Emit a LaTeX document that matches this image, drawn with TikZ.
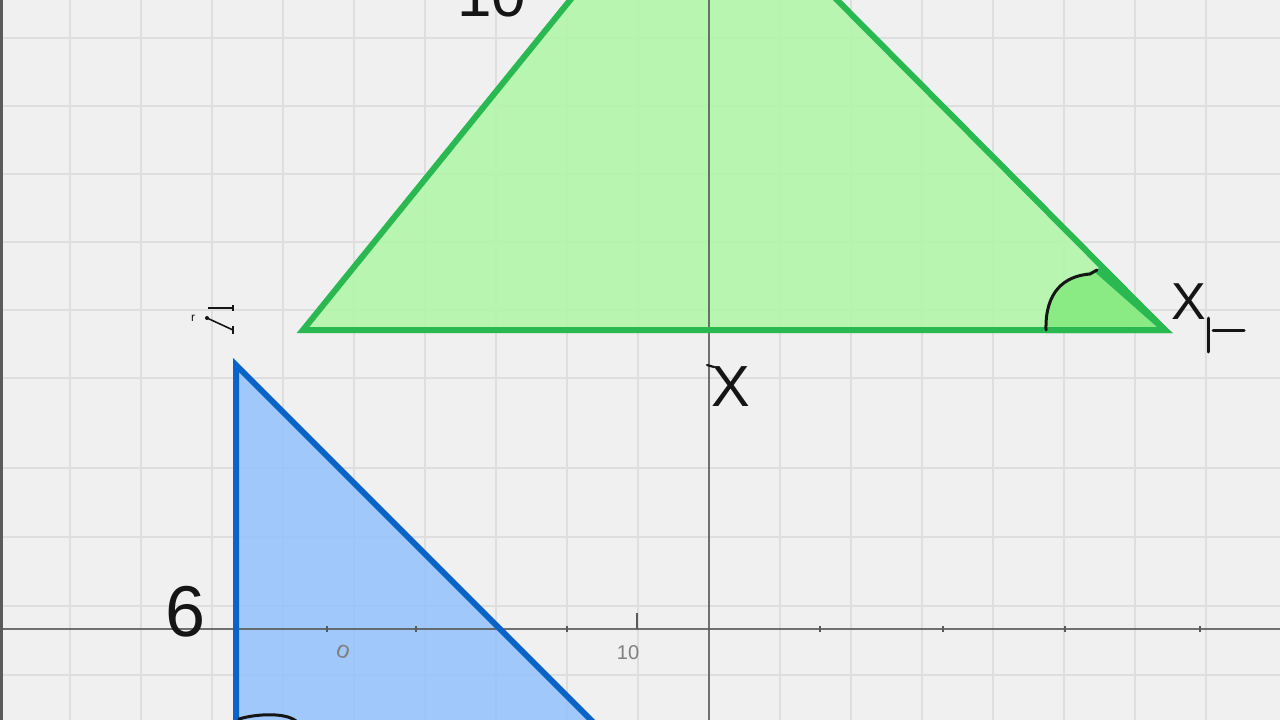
\documentclass[tikz,border=0pt]{standalone}
\usepackage{fontspec}
\setmainfont{Liberation Sans}
\definecolor{bgc}{HTML}{F0F0F0}
\definecolor{gridc}{HTML}{DEDEDE}
\definecolor{axisc}{HTML}{5A5A5A}
\definecolor{gstroke}{HTML}{2AB850}
\definecolor{gfill}{HTML}{AEF7A7}
\definecolor{gangle}{HTML}{86EA80}
\definecolor{bstroke}{HTML}{0A64C8}
\definecolor{bfill}{HTML}{92C1FC}
\definecolor{inkc}{HTML}{151515}
\tikzset{
  gridline/.style={draw=gridc, line width=1.6pt},
  axisline/.style={draw=axisc, line width=1.6pt},
  greenfill/.style={fill=gfill, fill opacity=0.85},
  greenedge/.style={draw=gstroke, line width=6pt},
  bluefill/.style={fill=bfill, fill opacity=0.85},
  blueedge/.style={draw=bstroke, line width=6pt},
  ink/.style={draw=inkc, line width=3pt, line cap=round},
  thinink/.style={draw=inkc, line width=1.6pt},
  biglabel/.style={inner sep=0pt, text=inkc},
  smalllabel/.style={inner sep=0pt, text=gray},
}
\begin{document}
\begin{tikzpicture}[x=1pt,y=-1pt]
\useasboundingbox (0,0) rectangle (1280,720);
\clip (0,0) rectangle (1280,720);
\fill[bgc] (0,0) rectangle (1280,720);
% grid
\foreach \x in {70,141,212,283,354,425,496,567,638,780,851,922,993,1064,1135,1206}
  \draw[gridline] (\x,0) -- (\x,720);
\foreach \y in {38,106,174,242,310,378,468,537,606,675}
  \draw[gridline] (0,\y) -- (1280,\y);
% triangle corners
\coordinate (gA) at (690,-148);
\coordinate (gB) at (303,330);
\coordinate (gC) at (1165,330);
\coordinate (bA) at (236,365);
\coordinate (bB) at (236,800);
\coordinate (bC) at (671,800);
% fills
\fill[greenfill] (gA) -- (gB) -- (gC) -- cycle;
\fill[bluefill] (bA) -- (bB) -- (bC) -- cycle;
% axes
\draw[axisline, draw opacity=0.85] (709,0) -- (709,720);
\draw[axisline, draw opacity=0.85] (0,629) -- (1280,629);
\foreach \x in {327,416,567,820,943,1065,1200}
  \draw[axisline, line width=1.2pt] (\x,626) -- (\x,632);
\draw[axisline, line width=1.2pt] (637,613) -- (637,629);
\draw[draw=axisc, line width=3pt] (1.5,0) -- (1.5,720);
% green triangle edges and angle
\draw[greenedge] (gA) -- (gB) -- (gC) -- cycle;
\coordinate (arcS) at (1046,330);
\coordinate (arcE) at (1097,270);
\fill[gangle, fill opacity=0.9] (gC) -- (arcS) .. controls (1045,292) and (1064,276) .. (arcE) -- cycle;
\draw[greenedge] (arcE) -- (gC) -- (arcS);
\draw[ink] (arcS) .. controls (1045,292) and (1064,276) .. (1090,274) -- (arcE);
% blue triangle edges
\draw[blueedge] (bA) -- (bB) -- (bC) -- cycle;
\draw[ink] (239,719) .. controls (255,714) and (285,712) .. (296,721);
% labels
\node[biglabel, font=\fontsize{62}{66}\selectfont] (ten) at (492,-5) {10};
\node[biglabel, font=\fontsize{52}{56}\selectfont] (xright) at (1189,302) {X};
\node[biglabel, font=\fontsize{58}{62}\selectfont] (xmid) at (731,387) {X};
\node[biglabel, font=\fontsize{72}{76}\selectfont] (six) at (186,612) {6};
\node[smalllabel, font=\fontsize{24}{26}\selectfont, rotate=-20] (tlo) at (343,652) {o};
\node[smalllabel, font=\fontsize{20}{22}\selectfont] (tlten) at (628,653) {10};
% small hand marks
\draw[ink] (1208,318) -- (1208,352);
\draw[ink] (1213,330) -- (1244,330);
\draw[ink, line width=2.2pt] (707,365) -- (714,367);
\draw[thinink] (208,308) -- (233,308);
\draw[thinink] (233,305) -- (233,311);
\fill[inkc] (207,318) circle (2pt);
\draw[thinink] (207,318) -- (233,330);
\draw[thinink] (233,326) -- (233,334);
\node[smalllabel, text=inkc, font=\fontsize{12}{13}\selectfont] (rmark) at (193,318) {r};
\end{tikzpicture}
\end{document}
